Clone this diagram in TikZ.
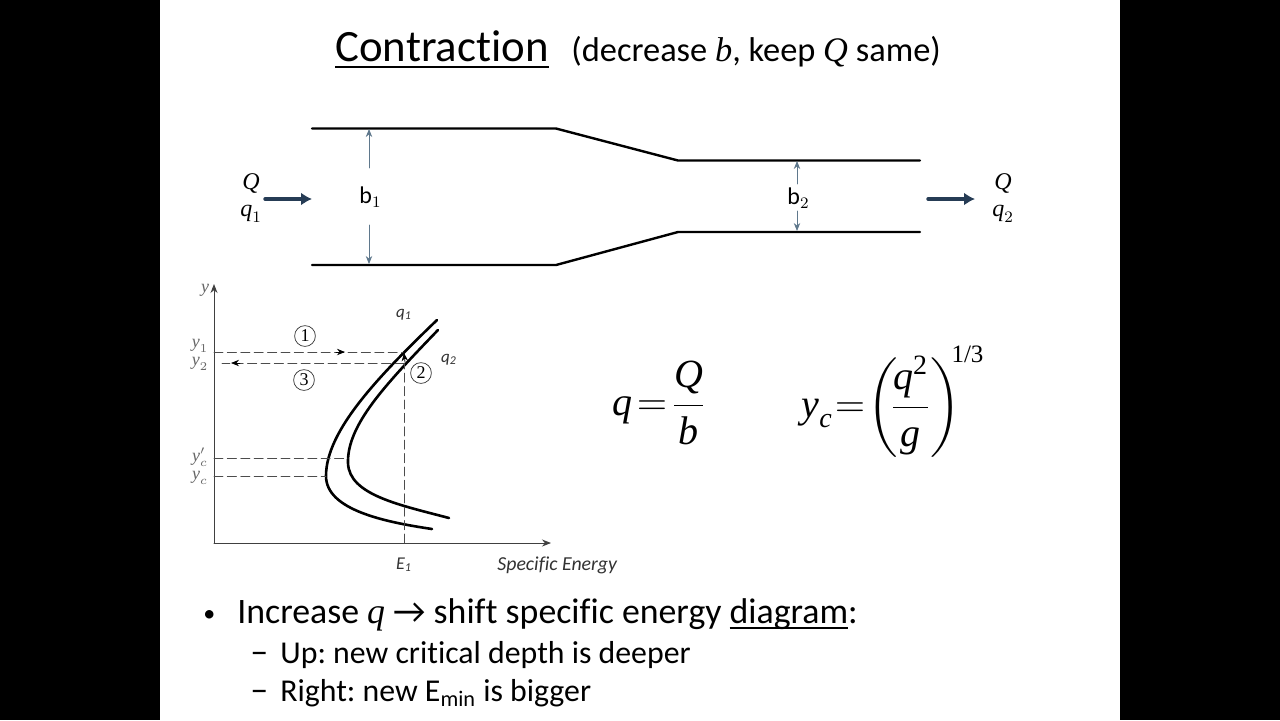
\documentclass[tikz,border=0pt]{standalone}
\usepackage{amsmath}
\usepackage{fontspec}
\setmainfont[Ligatures=NoCommon]{Carlito}
\newfontfamily\varfont{Liberation Serif}
\newcommand{\mv}[1]{\text{\varfont\itshape #1}}
\newcommand{\mr}[1]{\text{\varfont #1}}
\usetikzlibrary{arrows.meta}
\definecolor{flow}{RGB}{38,60,85}
\definecolor{gapgray}{RGB}{95,120,140}
\frenchspacing
\tikzset{
	wall/.style={line width=1.2pt,black},
	flowarrow/.style={line width=1.7pt,flow,-{Latex[length=5.5pt,width=6.5pt]}},
	gap/.style={line width=0.4pt,gapgray,-{Stealth[length=4pt,width=3.2pt]}},
	tick/.style={line width=0.4pt,black,-{Stealth[length=4pt,width=3.2pt]}},
	guide/.style={line width=0.45pt,black!70,dash pattern=on 4.5pt off 2.2pt},
	curve/.style={line width=1.3pt,black},
	axis/.style={line width=0.5pt,black!75,-{Stealth[length=4.5pt,width=3.5pt]}},
	lab/.style={inner sep=0pt,font=\fontsize{9}{10}\selectfont,black!60},
	lbl/.style={inner sep=0pt,font=\fontsize{12}{13}\selectfont},
	num/.style={circle,draw=black!80,line width=0.35pt,inner sep=0pt,minimum size=10.4pt,font=\fontsize{9}{9}\varfont},
	body/.style={inner sep=0pt,anchor=base west},
	eqn/.style={inner sep=0pt,font=\fontsize{20}{24}\selectfont}
}
\begin{document}
\begin{tikzpicture}[x=0.5pt,y=-0.5pt,line join=round, line cap=round, >=stealth]
	\useasboundingbox (0,0) rectangle (1280,720);
	\fill[white] (0,0) rectangle (1280,720);
	\fill[black] (0,0) rectangle (160,720);
	\fill[black] (1120,0) rectangle (1280,720);
	% title
	\node[body,font=\fontsize{22.4}{24}\selectfont] (title) at (335,61) {\underline{Contraction}};
	\node[body,font=\fontsize{17.2}{18}\selectfont] (sub) at (571,61) {(decrease $\mv{b}$, keep $\mv{Q}$ same)};
	% channel
	\coordinate (T1) at (312,128.5);
	\coordinate (T2) at (556,128.5);
	\coordinate (T3) at (678,160.5);
	\coordinate (T4) at (920,160.5);
	\coordinate (B1) at (312,265);
	\coordinate (B2) at (556,265);
	\coordinate (B3) at (678,232);
	\coordinate (B4) at (920,232);
	\draw[wall] (T1)--(T2)--(T3)--(T4);
	\draw[wall] (B1)--(B2)--(B3)--(B4);
	\node[lbl] (bone) at (370.5,197) {b$_1$};
	\node[lbl] (btwo) at (798.5,198) {b$_2$};
	\coordinate (bonet) at (369,129);
	\coordinate (boneb) at (369,264);
	\coordinate (bonea) at (369,168);
	\coordinate (bonec) at (369,225);
	\coordinate (btwot) at (797,161);
	\coordinate (btwob) at (797,231);
	\coordinate (btwoa) at (797,184);
	\coordinate (btwoc) at (797,211);
	\draw[gap] (bonea)--(bonet);
	\draw[gap] (bonec)--(boneb);
	\draw[gap] (btwoa)--(btwot);
	\draw[gap] (btwoc)--(btwob);
	% flow in and out
	\coordinate (ina) at (265,199);
	\coordinate (inb) at (312,199);
	\coordinate (outa) at (928,199);
	\coordinate (outb) at (975,199);
	\draw[flowarrow] (ina)--(inb);
	\draw[flowarrow] (outa)--(outb);
	\node[lbl] (Qin) at (251,183) {$\mv{Q}$};
	\node[lbl] (qin) at (251,214) {$\mv{q}_1$};
	\node[lbl] (Qout) at (1003,183) {$\mv{Q}$};
	\node[lbl] (qout) at (1003,214) {$\mv{q}_2$};
	% specific energy axes
	\coordinate (O) at (214,543);
	\coordinate (Yend) at (214,284);
	\coordinate (Xend) at (551,543);
	\draw[axis] (O)--(Yend);
	\draw[axis] (O)--(Xend);
	% curves
	\draw[curve] (437,320) .. controls (380,375) and (326,430) .. (326,476) .. controls (326,510) and (385,522) .. (432,529);
	\draw[curve] (438,330) .. controls (385,385) and (347,425) .. (348,463) .. controls (349,495) and (400,505) .. (449,518);
	% dashed levels
	\coordinate (Yone) at (214,352);
	\coordinate (Yonec) at (403,352);
	\coordinate (Ytwo) at (222,363);
	\coordinate (Ytwoc) at (404,363);
	\coordinate (Ycp) at (214,458);
	\coordinate (Ycpc) at (348,458);
	\coordinate (Yc) at (214,476);
	\coordinate (Ycc) at (326,476);
	\coordinate (Eone) at (404,543);
	\coordinate (Etop) at (404,363);
	\draw[guide] (Yone)--(Yonec);
	\draw[guide] (Ytwoc)--(Ytwo);
	\draw[guide] (Ycp)--(Ycpc);
	\draw[guide] (Yc)--(Ycc);
	\draw[guide] (Eone)--(Etop);
	\coordinate (Mone) at (336,352);
	\coordinate (Mtwo) at (345,352);
	\coordinate (Mthr) at (240,363);
	\coordinate (Mfou) at (231,363);
	\coordinate (Mfiv) at (405,362);
	\coordinate (Msix) at (404,353);
	\draw[tick] (Mone)--(Mtwo);
	\draw[tick] (Mthr)--(Mfou);
	\draw[tick] (Mfiv)--(Msix);
	% labels of the chart
	\node[lab] (ylab) at (205,290) {$\mv{y}$};
	\node[lab] (yone) at (200,346) {$\mv{y}_1$};
	\node[lab] (ytwo) at (200,364) {$\mv{y}_2$};
	\node[lab] (ycp) at (200,457) {$\mv{y}_c'$};
	\node[lab] (yc) at (200,478) {$\mv{y}_c$};
	\node[lab,black!80,font=\fontsize{8.5}{10}\selectfont\itshape] (qone) at (404,315) {q$_{\mathit{1}}$};
	\node[lab,black!80,font=\fontsize{8.5}{10}\selectfont\itshape] (qtwo) at (449,360) {q$_{\mathit{2}}$};
	\node[lab,black!80,font=\fontsize{9}{10}\selectfont\itshape] (Elab) at (404,565) {E$_{\mathit{1}}$};
	\node[lab,black!80,anchor=west,font=\fontsize{9.9}{10}\selectfont\itshape] (Spec) at (497,565) {Specific Energy};
	\node[num] (one) at (305,336) {1};
	\node[num] (three) at (304,380) {3};
	\node[num] (two) at (421,373) {2};
	% equations
	\node[eqn] (eqq) at (659,403) {\thickmuskip=2mu$\mv{q}=\dfrac{\mv{Q}}{\mv{b}}$};
	\node[eqn] (eqy) at (893,403) {\thickmuskip=1mu$\mv{y}_{\mv{c}}=\left(\rule[-21pt]{0pt}{52pt}\!\dfrac{\mv{q}^{\mr{2}}}{\mv{g}}\right)^{\!\!\raisebox{2pt}{\varfont\fontsize{12.5}{13}\selectfont 1/3}}$};
	% bullets
	\node[body,font=\fontsize{12}{14}\selectfont] (bull) at (203,621) {•};
	\node[body,font=\fontsize{17.9}{18}\selectfont] (lineone) at (237,623) {Increase $\mv{q}$ → shift specific energy \underline{\smash{diagram}}:};
	\node[body,font=\fontsize{18}{17}\selectfont] (dashone) at (250,663) {–};
	\node[body,font=\fontsize{15.9}{17}\selectfont] (linetwo) at (280,663) {Up: new critical depth is deeper};
	\node[body,font=\fontsize{18}{17}\selectfont] (dashtwo) at (250,701) {–};
	\node[body,font=\fontsize{15.9}{17}\selectfont] (linethr) at (280,701) {Right: new E$_{\text{min}}$ is bigger};
\end{tikzpicture}
\end{document}
